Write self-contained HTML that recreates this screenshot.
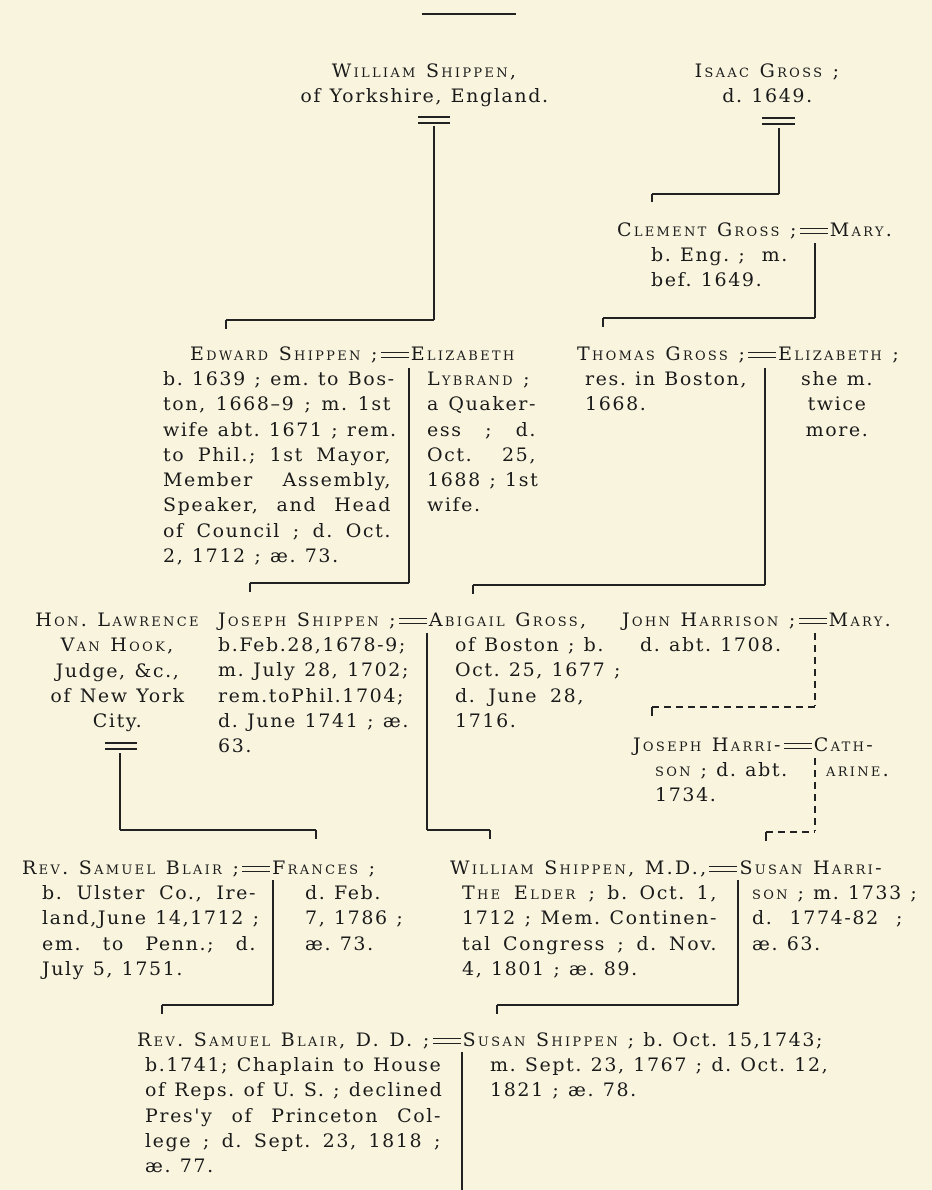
<!DOCTYPE html>
<html><head><meta charset="utf-8">
<style>
html,body{margin:0;padding:0}
body{width:932px;height:1190px;background:#f8f4de;position:relative;overflow:hidden}
.b{position:absolute;font:19px/25.3px "DejaVu Serif",serif;letter-spacing:1.6px;color:#1a1a1a;white-space:nowrap}
.sc{font-variant:small-caps;letter-spacing:2.3px}
.eq{display:inline-block;width:28px;height:4px;border-top:1.6px solid #222;border-bottom:1.6px solid #222;vertical-align:middle;margin:0 2px 0 1px}
.j div{text-align:justify;text-align-last:justify}
.j div.l{text-align-last:left}
.c{text-align:center}
svg{position:absolute;left:0;top:0}
</style></head><body>
<svg width="932" height="1190" stroke="#222" stroke-width="2" fill="none">
<line x1="422" y1="14" x2="516" y2="14"/>
<line x1="418" y1="117" x2="450" y2="117"/><line x1="418" y1="123" x2="450" y2="123"/>
<line x1="434" y1="126" x2="434" y2="320"/><line x1="226" y1="320" x2="434" y2="320"/><line x1="226" y1="320" x2="226" y2="329"/>
<line x1="762" y1="118" x2="795" y2="118"/><line x1="762" y1="124" x2="795" y2="124"/>
<line x1="779" y1="128" x2="779" y2="194"/><line x1="652" y1="194" x2="779" y2="194"/><line x1="652" y1="194" x2="652" y2="202"/>
<line x1="815" y1="243" x2="815" y2="318"/><line x1="603" y1="318" x2="815" y2="318"/><line x1="603" y1="318" x2="603" y2="327"/>
<line x1="409" y1="368" x2="409" y2="583"/><line x1="250" y1="583" x2="409" y2="583"/><line x1="250" y1="583" x2="250" y2="592"/>
<line x1="765" y1="368" x2="765" y2="585"/><line x1="473" y1="585" x2="765" y2="585"/><line x1="473" y1="585" x2="473" y2="594"/>
<line x1="105" y1="743" x2="137" y2="743"/><line x1="105" y1="749" x2="137" y2="749"/>
<line x1="120" y1="753" x2="120" y2="830"/><line x1="120" y1="830" x2="316" y2="830"/><line x1="316" y1="830" x2="316" y2="839"/>
<line x1="427" y1="633" x2="427" y2="830"/><line x1="427" y1="830" x2="490" y2="830"/><line x1="490" y1="830" x2="490" y2="839"/>
<g stroke-dasharray="7,5">
<line x1="815" y1="633" x2="815" y2="706"/><line x1="652" y1="707" x2="815" y2="707"/>
<line x1="815" y1="758" x2="815" y2="831"/><line x1="766" y1="832" x2="815" y2="832"/>
</g>
<line x1="652" y1="707" x2="652" y2="716"/><line x1="766" y1="832" x2="766" y2="841"/>
<line x1="273" y1="880" x2="273" y2="1005"/><line x1="162" y1="1005" x2="273" y2="1005"/><line x1="162" y1="1005" x2="162" y2="1014"/>
<line x1="738" y1="880" x2="738" y2="1005"/><line x1="497" y1="1005" x2="738" y2="1005"/><line x1="497" y1="1005" x2="497" y2="1014"/>
<line x1="462" y1="1052" x2="462" y2="1190"/>
</svg>

<div class="b c" style="left:270px;top:59px;width:310px"><div class="sc">William Shippen,</div><div>of Yorkshire, England.</div></div>
<div class="b c" style="left:668px;top:59px;width:200px"><div class="sc">Isaac Gross ;</div><div>d. 1649.</div></div>

<div class="b" style="left:617px;top:218px"><span class="sc">Clement Gross ;</span><span class="eq"></span><span class="sc">Mary.</span></div>
<div class="b" style="left:651px;top:243px"><div>b. Eng. ;&nbsp; m.</div><div>bef. 1649.</div></div>

<div class="b" style="left:190px;top:342px"><span class="sc">Edward Shippen ;</span><span class="eq"></span><span class="sc">Elizabeth</span></div>
<div class="b j" style="left:163px;top:367px;width:229px">
<div>b. 1639 ; em. to Bos-</div><div>ton, 1668–9 ; m. 1st</div><div>wife abt. 1671 ; rem.</div><div>to Phil.; 1st Mayor,</div><div>Member Assembly,</div><div>Speaker, and Head</div><div>of Council ; d. Oct.</div><div class="l">2, 1712 ; æ. 73.</div></div>
<div class="b j" style="left:427px;top:367px;width:110px">
<div class="l sc">Lybrand ;</div><div>a Quaker-</div><div>ess ; d.</div><div>Oct. 25,</div><div>1688 ; 1st</div><div class="l">wife.</div></div>

<div class="b" style="left:577px;top:342px"><span class="sc">Thomas Gross ;</span><span class="eq"></span><span class="sc">Elizabeth ;</span></div>
<div class="b" style="left:585px;top:367px"><div>res. in Boston,</div><div>1668.</div></div>
<div class="b c" style="left:790px;top:367px;width:95px"><div>she m.</div><div>twice</div><div>more.</div></div>

<div class="b c" style="left:18px;top:608px;width:200px"><div class="sc">Hon. Lawrence</div><div class="sc">Van Hook,</div><div>Judge, &amp;c.,</div><div>of New York</div><div>City.</div></div>

<div class="b" style="left:218px;top:608px"><span class="sc">Joseph Shippen ;</span><span class="eq"></span><span class="sc">Abigail Gross,</span></div>
<div class="b j" style="left:218px;top:633px;width:192px">
<div>b.Feb.28,1678-9;</div><div>m. July 28, 1702;</div><div>rem.toPhil.1704;</div><div>d. June 1741 ; æ.</div><div class="l">63.</div></div>
<div class="b j" style="left:455px;top:633px;width:130px">
<div class="l">of Boston ; b.</div><div class="l">Oct. 25, 1677 ;</div><div>d. June 28,</div><div class="l">1716.</div></div>

<div class="b" style="left:622px;top:608px"><span class="sc">John Harrison ;</span><span class="eq"></span><span class="sc">Mary.</span></div>
<div class="b" style="left:640px;top:633px">d. abt. 1708.</div>
<div class="b" style="left:633px;top:733px"><span class="sc">Joseph Harri-</span><span class="eq"></span><span class="sc">Cath-</span></div>
<div class="b" style="left:655px;top:758px"><div><span class="sc">son</span> ; d. abt.</div><div>1734.</div></div>
<div class="b sc" style="left:826px;top:758px">arine.</div>

<div class="b" style="left:22px;top:856px"><span class="sc">Rev. Samuel Blair ;</span><span class="eq"></span><span class="sc">Frances ;</span></div>
<div class="b j" style="left:42px;top:881px;width:215px">
<div>b. Ulster Co., Ire-</div><div>land,June 14,1712 ;</div><div>em. to Penn.; d.</div><div class="l">July 5, 1751.</div></div>
<div class="b" style="left:305px;top:881px"><div>d. Feb.</div><div>7, 1786 ;</div><div>æ. 73.</div></div>

<div class="b" style="left:450px;top:856px"><span class="sc">William Shippen, M.D.,</span><span class="eq"></span><span class="sc">Susan Harri-</span></div>
<div class="b j" style="left:462px;top:881px;width:256px">
<div><span class="sc">The Elder</span> ; b. Oct. 1,</div><div>1712 ; Mem. Continen-</div><div>tal Congress ; d. Nov.</div><div class="l">4, 1801 ; æ. 89.</div></div>
<div class="b j" style="left:752px;top:881px;width:152px">
<div><span class="sc">son</span> ; m. 1733 ;</div><div>d. 1774-82 ;</div><div class="l">æ. 63.</div></div>

<div class="b" style="left:137px;top:1028px"><span class="sc">Rev. Samuel Blair, D. D. ;</span><span class="eq"></span><span class="sc">Susan Shippen</span> ; b. Oct. 15,1743;</div>
<div class="b j" style="left:145px;top:1053px;width:297px">
<div>b.1741; Chaplain to House</div><div>of Reps. of U. S. ; declined</div><div>Pres'y of Princeton Col-</div><div>lege ; d. Sept. 23, 1818 ;</div><div class="l">æ. 77.</div></div>
<div class="b" style="left:490px;top:1053px"><div>m. Sept. 23, 1767 ; d. Oct. 12,</div><div>1821 ; æ. 78.</div></div>
</body></html>
